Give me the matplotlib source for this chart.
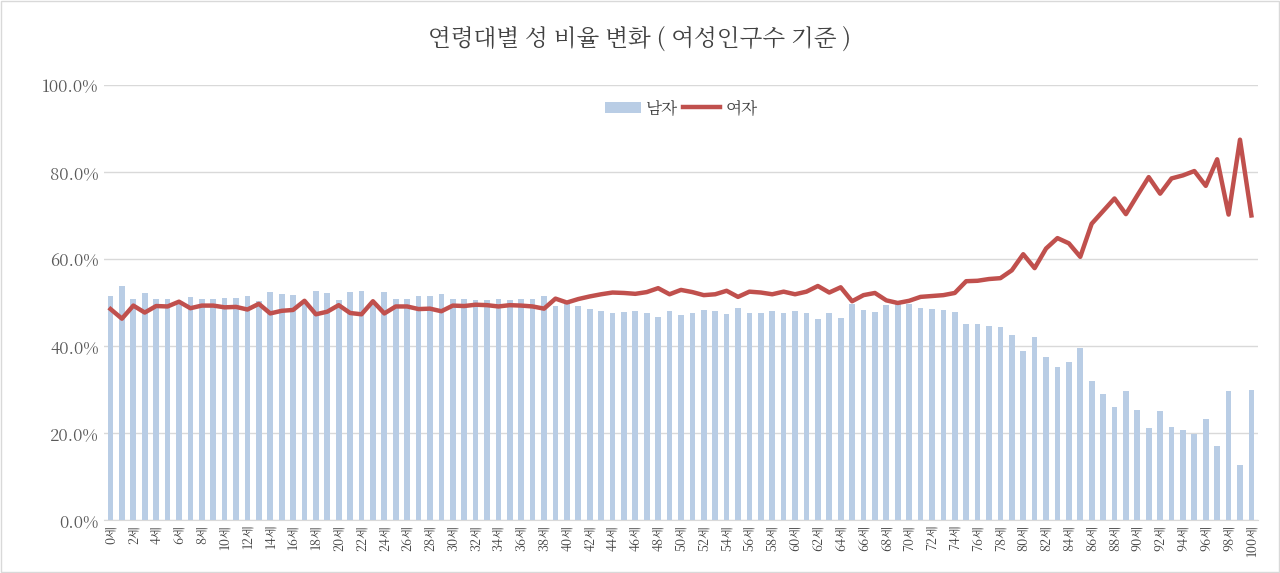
import matplotlib
matplotlib.use("Agg")
import matplotlib.pyplot as plt
from matplotlib import font_manager as fm
import numpy as np
from matplotlib.ticker import FuncFormatter, MultipleLocator

cands = [f.name for f in fm.fontManager.ttflist if "CJK" in f.name]
pref = [n for n in cands if "KR" in n] or cands
if not pref:
    import glob
    for p in glob.glob("/usr/share/fonts/**/*CJK*", recursive=True):
        try:
            fm.fontManager.addfont(p)
        except Exception:
            pass
    cands = [f.name for f in fm.fontManager.ttflist if "CJK" in f.name]
    pref = [n for n in cands if "KR" in n] or cands
plt.rcParams["font.family"] = pref[:1] + ["DejaVu Sans"]

ages = [f"{i}세" for i in range(101)]
female = [48.5,46.3,49.3,47.7,49.2,49.1,50.2,48.7,49.3,49.3,48.9,49.0,48.4,49.7,47.5,48.1,48.3,50.4,47.3,47.9,
          49.4,47.6,47.3,50.3,47.5,49.1,49.1,48.5,48.6,48.0,49.3,49.2,49.5,49.4,49.1,49.4,49.3,49.1,48.6,50.9,
          50.0,50.8,51.4,51.9,52.3,52.2,52.0,52.4,53.3,51.9,52.9,52.4,51.7,51.9,52.7,51.3,52.5,52.3,51.9,52.5,
          51.9,52.5,53.8,52.3,53.5,50.3,51.7,52.2,50.5,49.9,50.4,51.3,51.5,51.7,52.2,54.9,55.0,55.4,55.6,57.4,
          61.1,57.9,62.4,64.8,63.6,60.5,68.1,71.0,73.9,70.3,74.6,78.8,75.0,78.5,79.2,80.2,76.8,82.9,70.2,87.4,70.0]
male = [51.5,53.7,50.7,52.3,50.8,50.9,49.8,51.3,50.7,50.7,51.1,51.0,51.6,50.3,52.5,51.9,51.7,49.6,52.7,52.1,
        50.6,52.4,52.7,49.7,52.5,50.9,50.9,51.5,51.4,52.0,50.7,50.8,50.5,50.6,50.9,50.6,50.7,50.9,51.4,49.1,
        50.0,49.2,48.6,48.1,47.7,47.8,48.0,47.6,46.7,48.1,47.1,47.6,48.3,48.1,47.3,48.7,47.5,47.7,48.1,47.5,
        48.1,47.5,46.2,47.7,46.5,49.7,48.3,47.8,49.5,50.1,49.6,48.7,48.5,48.3,47.8,45.1,45.0,44.6,44.4,42.6,
        38.9,42.1,37.6,35.2,36.4,39.5,31.9,29.0,26.1,29.7,25.4,21.2,25.0,21.5,20.8,19.8,23.2,17.1,29.8,12.6,30.0]

fig = plt.figure(figsize=(12.8, 5.73), dpi=100)
ax = fig.add_axes([0.081, 0.092, 0.902, 0.760])
x = np.arange(len(ages))
b = ax.bar(x, male, width=0.5, color="#B9CDE5", label="남자", zorder=2)
l, = ax.plot(x, female, color="#C0504D", lw=3.2, label="여자", zorder=3)
ax.set_xlim(-0.6, len(ages) - 0.4)
ax.set_ylim(0, 100)
ax.yaxis.set_major_locator(MultipleLocator(20))
ax.yaxis.set_major_formatter(FuncFormatter(lambda v, p: f"{v:.1f}%"))
ax.grid(axis="y", color="#D9D9D9", lw=1, zorder=0)
ax.set_xticks(x[::2])
ax.set_xticklabels(ages[::2], rotation=90, fontsize=9, color="#404040")
ax.tick_params(axis="y", labelsize=12, colors="#595959", length=0)
ax.tick_params(axis="x", length=0, pad=3)
for s in ["top", "right", "left"]:
    ax.spines[s].set_visible(False)
ax.spines["bottom"].set_color("#D9D9D9")
ax.legend(handles=[b, l], loc="upper center", bbox_to_anchor=(0.5, 1.0), ncol=2, frameon=False, fontsize=12,
          handlelength=2.2, columnspacing=0.3, handletextpad=0.3, labelcolor="#404040")
fig.text(0.5, 0.92, "연령대별 성 비율 변화 ( 여성인구수 기준 )", ha="center", fontsize=17, color="#404040")
fig.patches.append(plt.Rectangle((0.001, 0.002), 0.998, 0.996, transform=fig.transFigure,
                                 fill=False, ec="#D9D9D9", lw=1))
fig.savefig("out.png", dpi=100)
